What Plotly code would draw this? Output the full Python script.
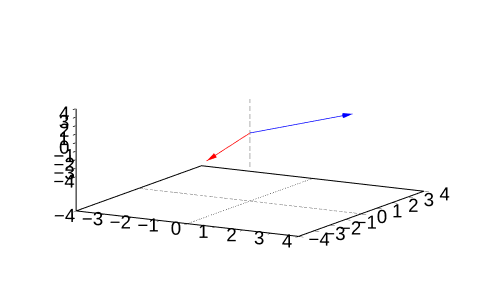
import plotly.graph_objects as go

# ---- data ----
x_tick_vals = [-4, -3, -2, -1, 0, 1, 2, 3, 4]
y_tick_vals = [-4, -3, -2, -1, 0, 1, 2, 3, 4]
z_tick_vals = [-4, -3, -2, -1, 0, 1, 2, 3, 4]
x_range = [-4, 4]
y_range = [-4, 4]
z_range = [-4, 4]
ticslevel = 0.5

vec_origin = [0, 0, 0]
vec_red = [-1, -1, -3]
vec_blue = [2, 3, 1]

# base plane level (gnuplot ticslevel)
z_base = z_range[0] - ticslevel * (z_range[1] - z_range[0])
eps = 0.02  # tiny padding so border lines on the box edge are not clipped

fig = go.Figure()

solid = dict(color="black", width=2)
# base border rectangle
bx = [x_range[0], x_range[1], x_range[1], x_range[0], x_range[0]]
by = [y_range[0], y_range[0], y_range[1], y_range[1], y_range[0]]
fig.add_trace(go.Scatter3d(x=bx, y=by, z=[z_base] * 5, mode="lines", line=solid, hoverinfo="skip"))
# z axis line at left corner
fig.add_trace(go.Scatter3d(x=[x_range[0]] * 2, y=[y_range[0]] * 2, z=[z_base, z_range[1]],
                           mode="lines", line=solid, hoverinfo="skip"))

# zero axes (dotted)
dot = dict(color="black", width=1.2, dash="dot")
fig.add_trace(go.Scatter3d(x=x_range, y=[0, 0], z=[z_base, z_base], mode="lines", line=dot, hoverinfo="skip"))
fig.add_trace(go.Scatter3d(x=[0, 0], y=y_range, z=[z_base, z_base], mode="lines", line=dot, hoverinfo="skip"))
fig.add_trace(go.Scatter3d(x=[0, 0], y=[0, 0], z=z_range, mode="lines", line=dot, hoverinfo="skip"))

# vectors
for vec, col, frac in [(vec_red, "red", 0.2), (vec_blue, "blue", 0.09)]:
    tip = [vec_origin[i] + vec[i] for i in range(3)]
    fig.add_trace(go.Scatter3d(x=[vec_origin[0], tip[0]], y=[vec_origin[1], tip[1]],
                               z=[vec_origin[2], tip[2]], mode="lines",
                               line=dict(color=col, width=1.5), hoverinfo="skip"))
    fig.add_trace(go.Cone(x=[tip[0]], y=[tip[1]], z=[tip[2]],
                          u=[vec[0] * frac], v=[vec[1] * frac], w=[vec[2] * frac],
                          anchor="tip", sizemode="raw", sizeref=1,
                          colorscale=[[0, col], [1, col]], showscale=False, hoverinfo="skip",
                          lighting=dict(ambient=1, diffuse=0, specular=0, roughness=1, fresnel=0)))

ax_common = dict(showgrid=False, zeroline=False, showbackground=False, showspikes=False,
                 showline=False, ticks="inside", ticklen=5, tickwidth=1.5, tickcolor="black", tickangle=0,
                 title=dict(text=""), tickfont=dict(family="Liberation Sans", size=15, color="black"))

k = 1.71
ex, ey, ez = 0.485, -0.860, 0.205
fig.update_layout(
    width=500, height=300,
    margin=dict(l=0, r=0, t=0, b=0),
    paper_bgcolor="white",
    showlegend=False,
    hovermode=False,
    scene=dict(
        xaxis=dict(range=[x_range[0] - eps, x_range[1] + eps], tickvals=x_tick_vals, **ax_common),
        yaxis=dict(range=[y_range[0] - eps, y_range[1] + eps], tickvals=y_tick_vals, **ax_common),
        zaxis=dict(range=[z_base - eps, z_range[1] + eps], tickvals=z_tick_vals, **ax_common),
        aspectmode="manual",
        aspectratio=dict(x=k, y=k, z=0.408 * k),
        camera=dict(projection=dict(type="orthographic"),
                    eye=dict(x=ex * 2, y=ey * 2, z=ez * 2),
                    up=dict(x=0, y=0, z=1), center=dict(x=0, y=0, z=0)),
        domain=dict(x=[0, 1], y=[0, 1]),
    ),
)

fig.write_html("out.html")
